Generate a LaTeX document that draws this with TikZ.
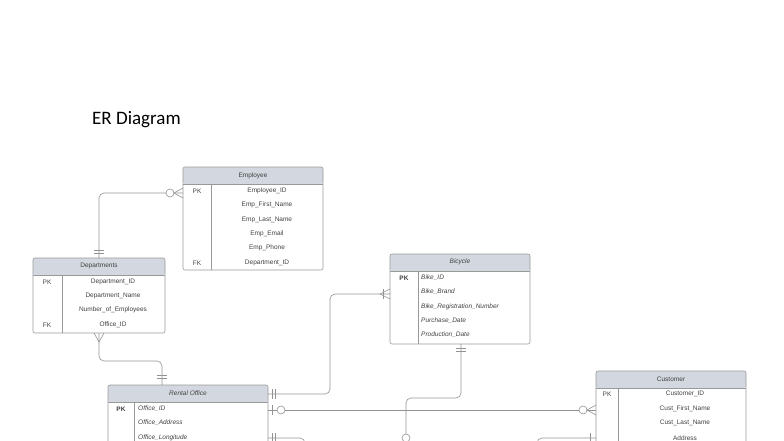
\documentclass[tikz,border=0pt]{standalone}
\usepackage{fontspec}
\setmainfont{Liberation Sans}
\newfontfamily\titlefont{Carlito}
\begin{document}
\begin{tikzpicture}[x=1pt,y=-1pt,
  ent/.style={draw=gray!80,rounded corners=2pt,line width=0.6pt},
  hdr/.style={fill=hdrc,rounded corners=2pt},
  txt/.style={font=\fontsize{6.5}{7}\selectfont,text=black!75,inner sep=0},
  conn/.style={draw=gray!85,line width=0.6pt,rounded corners=5pt},
  mk/.style={draw=gray!85,line width=0.6pt}]
\definecolor{hdrc}{HTML}{D3D8E0}
\useasboundingbox (0,0) rectangle (784,441);
\clip (0,0) rectangle (784,441);
\node[anchor=west,font=\titlefont\fontsize{19}{20}\selectfont,inner sep=0] (title) at (92,120) {ER Diagram};
% entity drawing macro
\newcommand\entbox[6]{% name x1 y1 x2 y2 divider
  \fill[hdrc,rounded corners=2pt] (#2,#3) rectangle (#4,#3+17);
  \draw[gray!80] (#2,#3+17) -- (#4,#3+17);
  \draw[gray!80,line width=0.5pt] (#6,#3+17) -- (#6,#5);
  \draw[ent] (#2,#3) rectangle (#4,#5);
  \node[inner sep=0] (#1) at ({(#2+#4)/2},{(#3+#5)/2}) {};}
% Employee
\entbox{emp}{183}{167}{323}{270}{211}
\node[txt] (empH) at (253,176) {Employee};
\foreach \t/\y in {Employee\_ID/191,Emp\_First\_Name/205,Emp\_Last\_Name/220,Emp\_Email/234,Emp\_Phone/248,Department\_ID/263}
  \node[txt] at (267,\y) {\t};
\node[txt] at (197,191) {PK}; \node[txt] at (197,263) {FK};
% Departments
\entbox{dep}{33}{258}{165}{333}{62}
\node[txt] at (99,266) {Departments};
\foreach \t/\y in {Department\_ID/282,Department\_Name/296,Number\_of\_Employees/310,Office\_ID/325}
  \node[txt] at (113,\y) {\t};
\node[txt] at (47,282) {PK}; \node[txt] at (47,325) {FK};
% Bicycle
\entbox{bic}{390}{254}{530}{344}{418}
\node[txt,font=\fontsize{6.5}{7}\selectfont\itshape] at (460,262) {Bicycle};
\foreach \t/\y in {Bike\_ID/278,Bike\_Brand/292,Bike\_Registration\_Number/307,Purchase\_Date/321,Production\_Date/335}
  \node[txt,anchor=west,font=\fontsize{6.5}{7}\selectfont\itshape] at (421,\y) {\t};
\node[txt,font=\fontsize{6.5}{7}\selectfont\bfseries] at (404,278) {PK};
% Rental Office
\entbox{ren}{108}{385}{268}{470}{134}
\node[txt,font=\fontsize{6.5}{7}\selectfont\itshape] at (188,393) {Rental Office};
\foreach \t/\y in {Office\_ID/409,Office\_Address/423,Office\_Longitude/438}
  \node[txt,anchor=west,font=\fontsize{6.5}{7}\selectfont\itshape] at (138,\y) {\t};
\node[txt,font=\fontsize{6.5}{7}\selectfont\bfseries] at (121,409) {PK};
% Customer
\entbox{cus}{596}{371}{746}{470}{618}
\node[txt] at (671,379) {Customer};
\foreach \t/\y in {Customer\_ID/394,Cust\_First\_Name/409,Cust\_Last\_Name/423,Address/438}
  \node[txt] at (685,\y) {\t};
\node[txt] at (607,394) {PK};
% coordinates
\coordinate (e1) at (183,193); \coordinate (d1) at (99,258);
\coordinate (d2) at (99,333); \coordinate (r1) at (162,385);
\coordinate (r2) at (268,394); \coordinate (b1) at (390,294);
\coordinate (r3) at (268,410); \coordinate (c1) at (596,410);
\coordinate (b2) at (461,344); \coordinate (x1) at (406,445);
\coordinate (r4) at (268,438); \coordinate (x2) at (305,445);
\coordinate (c2) at (596,438); \coordinate (x3) at (537,445);
% connectors
\draw[conn] (e1) -| (d1);
\draw[conn] (d2) |- (162,361) -- (r1);
\draw[conn] (r2) -| (330,294) -- (b1);
\draw[conn] (r3) -- (c1);
\draw[conn] (b2) |- (406,398) -- (x1);
\draw[conn] (r4) -| (x2);
\draw[conn] (c2) -| (x3);
% markers
\draw[mk] (183,188) -- (174,193) -- (183,198); \draw[mk,fill=white] (170,193) circle (4);
\draw[mk] (94,250) -- (104,250); \draw[mk] (94,253) -- (104,253);
\draw[mk] (94,333) -- (99,342) -- (104,333);
\draw[mk] (157,375) -- (167,375); \draw[mk] (157,378) -- (167,378);
\draw[mk] (272,389) -- (272,399); \draw[mk] (275,389) -- (275,399);
\draw[mk] (390,289) -- (380,294) -- (390,299); \draw[mk] (383,289) -- (383,299);
\draw[mk] (272,405) -- (272,415); \draw[mk,fill=white] (281,410) circle (4);
\draw[mk] (596,405) -- (587,410) -- (596,415); \draw[mk,fill=white] (583,410) circle (4);
\draw[mk] (456,348) -- (466,348); \draw[mk] (456,351) -- (466,351);
\draw[mk,fill=white] (406,438) circle (4);
\draw[mk] (272,433) -- (272,443); \draw[mk] (275,433) -- (275,443);
\draw[mk] (590,433) -- (590,443);
\end{tikzpicture}
\end{document}
